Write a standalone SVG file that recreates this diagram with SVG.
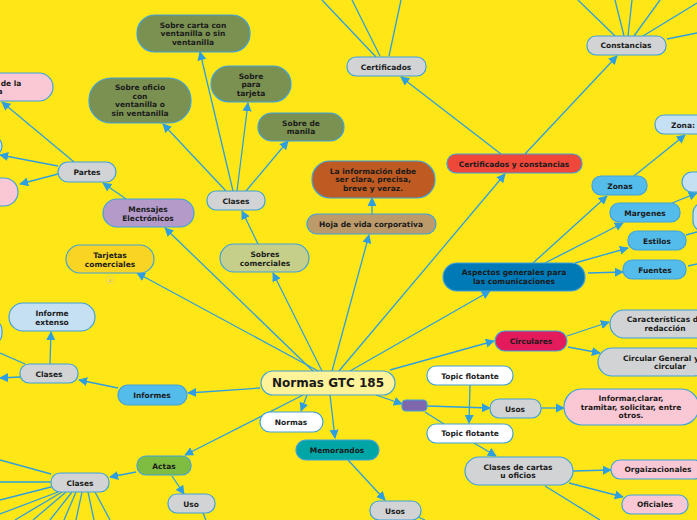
<svg xmlns="http://www.w3.org/2000/svg" width="697" height="520" viewBox="0 0 697 520">
<defs>
<marker id="a" viewBox="0 0 10 10" refX="9" refY="5" markerWidth="7" markerHeight="7" orient="auto"><path d="M0,0L10,5L0,10z" fill="#2d9fe0"/></marker>
<style>
.n rect{stroke:#3fa2dc;stroke-width:1.2}
text{font-family:"DejaVu Sans",sans-serif;font-size:7.5px;font-weight:bold;fill:#1a1a1a;text-anchor:middle}
#e line{stroke:#2d9fe0;stroke-width:1.3}
#e line.m{marker-end:url(#a)}
</style>
</defs>
<rect width="697" height="520" fill="#ffe617"/>
<g id="e">
<line class="m" x1="320" y1="372" x2="137" y2="273"/>
<line class="m" x1="313" y1="371" x2="165" y2="228"/>
<line class="m" x1="322" y1="371" x2="273" y2="273"/>
<line class="m" x1="332" y1="371" x2="369" y2="235"/>
<line class="m" x1="339" y1="371" x2="505" y2="174"/>
<line class="m" x1="350" y1="371" x2="490" y2="291"/>
<line class="m" x1="390" y1="370" x2="494" y2="341"/>
<line class="m" x1="376" y1="395" x2="402" y2="404"/>
<line class="m" x1="307" y1="395" x2="301" y2="411"/>
<line class="m" x1="330" y1="395" x2="335" y2="438"/>
<line class="m" x1="303" y1="395" x2="185" y2="455"/>
<line class="m" x1="260" y1="388" x2="188" y2="393"/>
<line class="m" x1="258" y1="244" x2="242" y2="211"/>
<line class="m" x1="226" y1="191" x2="163" y2="124"/>
<line class="m" x1="233" y1="191" x2="200" y2="52"/>
<line class="m" x1="237" y1="191" x2="248" y2="103"/>
<line class="m" x1="246" y1="191" x2="288" y2="141"/>
<line class="m" x1="126" y1="199" x2="103" y2="183"/>
<line class="m" x1="74" y1="162" x2="2" y2="102"/>
<line class="m" x1="58" y1="166" x2="0" y2="155"/>
<line class="m" x1="58" y1="174" x2="20" y2="184"/>
<line class="m" x1="372" y1="214" x2="372" y2="198"/>
<line class="m" x1="501" y1="154" x2="401" y2="77"/>
<line class="m" x1="525" y1="154" x2="617" y2="56"/>
<line x1="376" y1="57" x2="322" y2="0"/>
<line x1="380" y1="56" x2="352" y2="0"/>
<line x1="389" y1="56" x2="401" y2="0"/>
<line x1="615" y1="36" x2="578" y2="0"/>
<line x1="624" y1="36" x2="615" y2="0"/>
<line x1="628" y1="36" x2="632" y2="0"/>
<line x1="634" y1="36" x2="660" y2="0"/>
<line x1="643" y1="36" x2="697" y2="3"/>
<line x1="667" y1="39" x2="697" y2="33"/>
<line class="m" x1="533" y1="263" x2="607" y2="196"/>
<line class="m" x1="545" y1="263" x2="623" y2="223"/>
<line class="m" x1="575" y1="263" x2="628" y2="248"/>
<line class="m" x1="588" y1="273" x2="623" y2="272"/>
<line class="m" x1="634" y1="176" x2="685" y2="135"/>
<line class="m" x1="672" y1="203" x2="697" y2="193"/>
<line x1="686" y1="235" x2="697" y2="232"/>
<line x1="688" y1="266" x2="697" y2="264"/>
<line class="m" x1="567" y1="336" x2="609" y2="322"/>
<line class="m" x1="568" y1="347" x2="600" y2="353"/>
<line class="m" x1="470" y1="385" x2="469" y2="423"/>
<line class="m" x1="427" y1="406" x2="490" y2="408"/>
<line class="m" x1="541" y1="408" x2="564" y2="408"/>
<line x1="425" y1="412" x2="444" y2="424"/>
<line class="m" x1="474" y1="443" x2="496" y2="456"/>
<line class="m" x1="573" y1="471" x2="611" y2="470"/>
<line class="m" x1="569" y1="483" x2="623" y2="497"/>
<line x1="545" y1="486" x2="600" y2="520"/>
<line class="m" x1="118" y1="388" x2="79" y2="380"/>
<line class="m" x1="50" y1="364" x2="51" y2="332"/>
<line x1="25" y1="364" x2="0" y2="353"/>
<line class="m" x1="20" y1="377" x2="0" y2="378"/>
<line class="m" x1="136" y1="472" x2="110" y2="477"/>
<line class="m" x1="172" y1="476" x2="184" y2="494"/>
<line x1="51" y1="474" x2="0" y2="460"/>
<line x1="51" y1="482" x2="0" y2="482"/>
<line x1="51" y1="487" x2="0" y2="500"/>
<line x1="58" y1="492" x2="0" y2="514"/>
<line x1="62" y1="492" x2="15" y2="520"/>
<line x1="66" y1="492" x2="33" y2="520"/>
<line x1="72" y1="492" x2="50" y2="520"/>
<line x1="76" y1="492" x2="64" y2="520"/>
<line x1="82" y1="492" x2="76" y2="520"/>
<line x1="88" y1="492" x2="94" y2="520"/>
<line x1="95" y1="492" x2="110" y2="520"/>
<line x1="203" y1="513" x2="206" y2="520"/>
<line class="m" x1="348" y1="460" x2="385" y2="500"/>
<line x1="418" y1="517" x2="425" y2="520"/>
</g>
<g class="n">
<g id="root"><rect x="261" y="371" width="134" height="24" rx="12" fill="#fff39a"/><text x="328" y="387" style="font-size:12px">Normas GTC 185</text></g>
<g id="sc"><rect x="137" y="15" width="113" height="37" rx="18" fill="#7b9152"/><text x="193" y="28">Sobre carta con</text><text x="193" y="36">ventanilla o sin</text><text x="193" y="45">ventanilla</text></g>
<g id="so"><rect x="89" y="78" width="102" height="45" rx="22" fill="#7b9152"/><text x="140" y="90">Sobre oficio</text><text x="140" y="99">con</text><text x="140" y="107">ventanilla o</text><text x="140" y="116">sin ventanilla</text></g>
<g id="st"><rect x="211" y="66" width="80" height="36" rx="18" fill="#7b9152"/><text x="251" y="79">Sobre</text><text x="251" y="87">para</text><text x="251" y="96">tarjeta</text></g>
<g id="sm"><rect x="258" y="113" width="86" height="28" rx="14" fill="#7b9152"/><text x="301" y="126">Sobre de</text><text x="301" y="134">manila</text></g>
<g id="cl1"><rect x="207" y="191" width="58" height="19" rx="9" fill="#d1d3d4"/><text x="236" y="204">Clases</text></g>
<g id="sob"><rect x="220" y="244" width="89" height="28" rx="14" fill="#c5cf8a"/><text x="265" y="257">Sobres</text><text x="265" y="266">comerciales</text></g>
<g id="me"><rect x="103" y="199" width="91" height="28" rx="14" fill="#b39ac9"/><text x="148" y="212">Mensajes</text><text x="148" y="221">Electrónicos</text></g>
<g id="pa"><rect x="58" y="162" width="58" height="20" rx="10" fill="#d1d3d4"/><text x="87" y="175">Partes</text></g>
<g id="pk1"><rect x="-30" y="73" width="83" height="28" rx="14" fill="#f9c8d4"/><text x="11" y="86">de la</text><text x="0" y="94">a</text></g>
<g id="pk2"><rect x="-30" y="178" width="48" height="28" rx="14" fill="#f9c8d4"/></g>
<g id="lb0"><rect x="-30" y="136" width="32" height="20" rx="10" fill="#c5dff3"/></g>
<g id="tc"><rect x="66" y="245" width="88" height="28" rx="14" fill="#f9d423"/><text x="110" y="258">Tarjetas</text><text x="110" y="267">comerciales</text></g>
<g id="li"><rect x="312" y="161" width="123" height="37" rx="18" fill="#bf5b22"/><text x="373" y="174">La información debe</text><text x="373" y="182">ser clara, precisa,</text><text x="373" y="191">breve y veraz.</text></g>
<g id="hv"><rect x="307" y="214" width="129" height="20" rx="10" fill="#bd9a6a"/><text x="371" y="227">Hoja de vida corporativa</text></g>
<g id="ce"><rect x="347" y="57" width="79" height="19" rx="9" fill="#d1d3d4"/><text x="386" y="70">Certificados</text></g>
<g id="cc"><rect x="447" y="154" width="135" height="19" rx="9" fill="#ef473a"/><text x="514" y="167">Certificados y constancias</text></g>
<g id="co"><rect x="587" y="36" width="79" height="19" rx="9" fill="#d1d3d4"/><text x="626" y="48">Constancias</text></g>
<g id="zo"><rect x="655" y="115" width="60" height="19" rx="9" fill="#c5dff3"/><text x="683" y="128">Zona:</text></g>
<g id="lb1"><rect x="682" y="172" width="30" height="20" rx="10" fill="#c5dff3"/></g>
<g id="lb2"><rect x="693" y="203" width="20" height="28" rx="10" fill="#c5dff3"/></g>
<g id="zs"><rect x="592" y="176" width="55" height="19" rx="9" fill="#54bceb"/><text x="620" y="189">Zonas</text></g>
<g id="ma"><rect x="610" y="203" width="70" height="19" rx="9" fill="#54bceb"/><text x="645" y="216">Margenes</text></g>
<g id="es"><rect x="628" y="231" width="58" height="19" rx="9" fill="#54bceb"/><text x="657" y="244">Estilos</text></g>
<g id="fu"><rect x="623" y="260" width="63" height="19" rx="9" fill="#54bceb"/><text x="655" y="273">Fuentes</text></g>
<g id="ag"><rect x="443" y="263" width="142" height="28" rx="14" fill="#0079b7"/><text x="514" y="275">Aspectos generales para</text><text x="514" y="284">las comunicaciones</text></g>
<g id="ci"><rect x="495" y="331" width="72" height="20" rx="10" fill="#e31b5d"/><text x="531" y="344">Circulares</text></g>
<g id="cr"><rect x="610" y="310" width="100" height="28" rx="14" fill="#d1d3d4"/><text x="665" y="322">Características de</text><text x="665" y="331">redacción</text></g>
<g id="cg"><rect x="598" y="348" width="110" height="28" rx="14" fill="#d1d3d4"/><text x="665" y="361">Circular General y C</text><text x="670" y="369">circular</text></g>
<g id="t1"><rect x="427" y="366" width="86" height="19" rx="9" fill="#fff"/><text x="470" y="379">Topic flotante</text></g>
<g id="t2"><rect x="427" y="424" width="86" height="19" rx="9" fill="#fff"/><text x="470" y="436">Topic flotante</text></g>
<g id="pu"><rect x="402" y="400" width="25" height="11" rx="4" fill="#7f67ad"/></g>
<g id="us"><rect x="490" y="399" width="51" height="19" rx="9" fill="#d1d3d4"/><text x="515" y="412">Usos</text></g>
<g id="inf"><rect x="564" y="389" width="135" height="36" rx="18" fill="#f9c8d4"/><text x="631" y="401">Informar,clarar,</text><text x="631" y="410">tramitar, solicitar, entre</text><text x="631" y="418">otros.</text></g>
<g id="cco"><rect x="465" y="457" width="108" height="28" rx="14" fill="#d1d3d4"/><text x="518" y="470">Clases de cartas</text><text x="518" y="478">u oficios</text></g>
<g id="org"><rect x="611" y="460" width="92" height="19" rx="9" fill="#f9c8d4"/><text x="658" y="472">Orgaizacionales</text></g>
<g id="ofi"><rect x="622" y="495" width="66" height="19" rx="9" fill="#f9c8d4"/><text x="655" y="507">Oficiales</text></g>
<g id="ie"><rect x="9" y="303" width="86" height="28" rx="14" fill="#c5dff3"/><text x="52" y="316">Informe</text><text x="52" y="325">extenso</text></g>
<g id="lb3"><rect x="-30" y="320" width="32" height="24" rx="10" fill="#c5dff3"/></g>
<g id="cl2"><rect x="20" y="364" width="58" height="19" rx="9" fill="#d1d3d4"/><text x="49" y="377">Clases</text></g>
<g id="ifs"><rect x="118" y="385" width="69" height="20" rx="10" fill="#54bceb"/><text x="152" y="398">Informes</text></g>
<g id="no"><rect x="260" y="412" width="63" height="20" rx="10" fill="#fff"/><text x="291" y="425">Normas</text></g>
<g id="mem"><rect x="296" y="440" width="83" height="20" rx="10" fill="#00a6a6"/><text x="337" y="453">Memorandos</text></g>
<g id="ac"><rect x="137" y="456" width="54" height="19" rx="9" fill="#7fbc42"/><text x="164" y="469">Actas</text></g>
<g id="cl3"><rect x="51" y="473" width="58" height="19" rx="9" fill="#d1d3d4"/><text x="80" y="486">Clases</text></g>
<g id="uso"><rect x="168" y="494" width="47" height="19" rx="9" fill="#d1d3d4"/><text x="191" y="507">Uso</text></g>
<g id="us2"><rect x="370" y="501" width="51" height="19" rx="9" fill="#d1d3d4"/><text x="395" y="514">Usos</text></g>
</g>
<circle cx="110" cy="280" r="4" fill="none" stroke="#e8d46a" stroke-width="0.8"/>
<text x="110" y="282" style="font-size:4px;fill:#bba">4</text>
</svg>
